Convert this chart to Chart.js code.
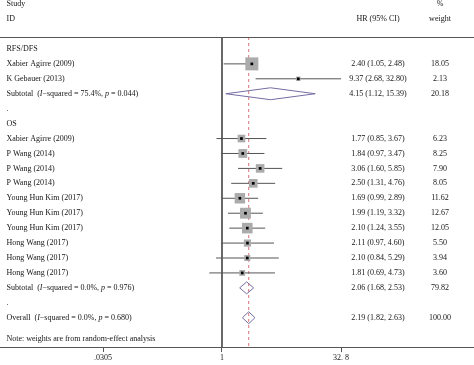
<!DOCTYPE html>
<html>
<head>
<meta charset="utf-8">
<script src="https://cdn.jsdelivr.net/npm/chart.js@4/dist/chart.umd.min.js"></script>
<style>
  html, body { margin: 0; padding: 0; background: #fff; }
  #wrap { width: 474px; height: 365px; position: relative; }
</style>
</head>
<body>
<div id="wrap"><canvas id="c"></canvas></div>
<script>
// ---- data (row index = array index) ----
const rowLabels = [
  "RFS/DFS",
  "Xabier Agirre (2009)",
  "K Gebauer (2013)",
  "Subtotal  (*I*\u2212squared = 75.4%, *p* = 0.044)",
  ".",
  "OS",
  "Xabier Agirre (2009)",
  "P Wang (2014)",
  "P Wang (2014)",
  "P Wang (2014)",
  "Young Hun Kim (2017)",
  "Young Hun Kim (2017)",
  "Young Hun Kim (2017)",
  "Hong Wang (2017)",
  "Hong Wang (2017)",
  "Hong Wang (2017)",
  "Subtotal  (*I*\u2212squared = 0.0%, *p* = 0.976)",
  ".",
  "Overall  (*I*\u2212squared = 0.0%, *p* = 0.680)"
];
const rowKind = ["head","study","study","pooled","blank","head",
  "study","study","study","study","study","study","study","study","study","study",
  "pooled","blank","pooled"];
const hrValues = [null, 2.40, 9.37, 4.15, null, null, 1.77, 1.84, 3.06, 2.50, 1.69, 1.99, 2.10, 2.11, 2.10, 1.81, 2.06, null, 2.19];
const ciLower  = [null, 1.05, 2.68, 1.12, null, null, 0.85, 0.97, 1.60, 1.31, 0.99, 1.19, 1.24, 0.97, 0.84, 0.69, 1.68, null, 1.82];
const ciUpper  = [null, 2.48, 32.80, 15.39, null, null, 3.67, 3.47, 5.85, 4.76, 2.89, 3.32, 3.55, 4.60, 5.29, 4.73, 2.53, null, 2.63];
const weights  = [null, 18.05, 2.13, 20.18, null, null, 6.23, 8.25, 7.90, 8.05, 11.62, 12.67, 12.05, 5.50, 3.94, 3.60, 79.82, null, 100.00];
const tickValues = [0.0305, 1, 32.8];
const tickLabels = [".0305", "1", "32. 8"];
const noteText = "Note: weights are from random-effect analysis";
const headerLeft = ["Study", "ID"];
const headerHR = "HR (95% CI)";
const headerW = ["%", "weight"];
const overallHR = hrValues[18];

// ---- layout constants ----
const Y_MIN = -0.8, Y_MAX = 19.96;
const FONT = "Liberation Serif";
const TXT = "#151515";

const datasets = [];
// centre dots (drawn on top)
datasets.push({
  data: rowKind.map((k,i)=> k==="study" ? {x:hrValues[i], y:i} : null).filter(Boolean),
  pointStyle: 'rect', pointRadius: 1.9, backgroundColor: '#000', borderWidth: 0, showLine: false, order: 0
});
// weight boxes
const studyIdx = rowKind.map((k,i)=> k==="study" ? i : -1).filter(i=>i>=0);
datasets.push({
  data: studyIdx.map(i=>({x:hrValues[i], y:i})),
  pointStyle: 'rect',
  pointRadius: studyIdx.map(i=>2.16*Math.sqrt(weights[i])),
  backgroundColor: '#ababab', borderWidth: 0, showLine: false, order: 1
});
// CI lines
studyIdx.forEach(i=>{
  datasets.push({
    data: [{x:ciLower[i], y:i},{x:ciUpper[i], y:i}],
    showLine: true, borderColor: '#555', borderWidth: 1, pointRadius: 0, order: 2
  });
});
// diamonds
rowKind.forEach((k,i)=>{
  if (k!=="pooled") return;
  const h = 0.4;
  datasets.push({
    data: [{x:ciLower[i], y:i},{x:hrValues[i], y:i-h},{x:ciUpper[i], y:i},{x:hrValues[i], y:i+h},{x:ciLower[i], y:i}],
    showLine: true, borderColor: '#756ca3', borderWidth: 1, pointRadius: 0, order: 2, tension: 0
  });
});
// overall dashed line
datasets.push({
  data: [{x:overallHR, y:Y_MIN},{x:overallHR, y:Y_MAX}],
  showLine: true, borderColor: '#d9737a', borderWidth: 1, borderDash: [3,3], pointRadius: 0, order: 3
});
// null line
datasets.push({
  data: [{x:1, y:Y_MIN},{x:1, y:Y_MAX}],
  showLine: true, borderColor: '#555', borderWidth: 1, pointRadius: 0, order: 4
});
datasets.forEach(d=>{ d.clip = false; });

function drawRich(ctx, str, x, y) {
  const parts = str.split('*');
  let cx = x;
  parts.forEach((p, idx)=>{
    ctx.font = (idx % 2 === 1 ? 'italic ' : '') + '8px "' + FONT + '"';
    ctx.fillText(p, cx, y);
    cx += ctx.measureText(p).width;
  });
}

const textPlugin = {
  id: 'forestText',
  afterDraw(chart) {
    const ctx = chart.ctx;
    const ys = chart.scales.y;
    const area = chart.chartArea;
    ctx.save();
    // frame lines spanning full width
    ctx.strokeStyle = '#555';
    ctx.lineWidth = 1;
    ctx.beginPath();
    ctx.moveTo(0, Math.round(area.top)+0.5); ctx.lineTo(chart.width, Math.round(area.top)+0.5);
    ctx.moveTo(0, Math.round(area.bottom)+0.5); ctx.lineTo(chart.width, Math.round(area.bottom)+0.5);
    ctx.stroke();

    ctx.fillStyle = TXT;
    ctx.textBaseline = 'middle';
    ctx.textAlign = 'left';
    ctx.font = '8px "' + FONT + '"';
    ctx.fillText(headerLeft[0], 6.5, ys.getPixelForValue(-3));
    ctx.fillText(headerLeft[1], 6.5, ys.getPixelForValue(-2));
    ctx.textAlign = 'center';
    ctx.fillText(headerHR, 378, ys.getPixelForValue(-2));
    ctx.fillText(headerW[0], 440, ys.getPixelForValue(-3));
    ctx.fillText(headerW[1], 440, ys.getPixelForValue(-2));

    rowLabels.forEach((lab, i)=>{
      const y = ys.getPixelForValue(i);
      ctx.textAlign = 'left';
      drawRich(ctx, lab, 6.5, y);
      ctx.font = '8px "' + FONT + '"';
      if (hrValues[i] != null) {
        ctx.textAlign = 'center';
        ctx.fillText(hrValues[i].toFixed(2) + ' (' + ciLower[i].toFixed(2) + ', ' + ciUpper[i].toFixed(2) + ')', 378, y);
        ctx.fillText(weights[i].toFixed(2), 440, y);
      }
    });
    ctx.textAlign = 'left';
    ctx.font = '8px "' + FONT + '"';
    ctx.fillText(noteText, 6.5, ys.getPixelForValue(19.4));
    ctx.restore();
  }
};

new Chart(document.getElementById('c'), {
  type: 'scatter',
  data: { datasets },
  options: {
    responsive: true,
    maintainAspectRatio: false,
    animation: false,
    layout: { padding: { left: 103, right: 133, top: 37, bottom: 0 } },
    plugins: { legend: { display: false }, tooltip: { enabled: false } },
    scales: {
      x: {
        type: 'logarithmic',
        min: tickValues[0],
        max: tickValues[tickValues.length-1],
        afterBuildTicks: (s)=>{ s.ticks = tickValues.map(v=>({value:v})); },
        afterFit: (s)=>{ s.height = 18; },
        grid: { drawOnChartArea: false, tickLength: 5, color: '#555', lineWidth: 1 },
        border: { display: false },
        ticks: {
          autoSkip: false, maxRotation: 0, padding: 1,
          color: TXT, font: { family: FONT, size: 8 },
          callback: (v, i)=> tickLabels[i]
        }
      },
      y: {
        type: 'linear', display: false, reverse: true,
        min: Y_MIN, max: Y_MAX
      }
    }
  },
  plugins: [textPlugin]
});
</script>
</body>
</html>
